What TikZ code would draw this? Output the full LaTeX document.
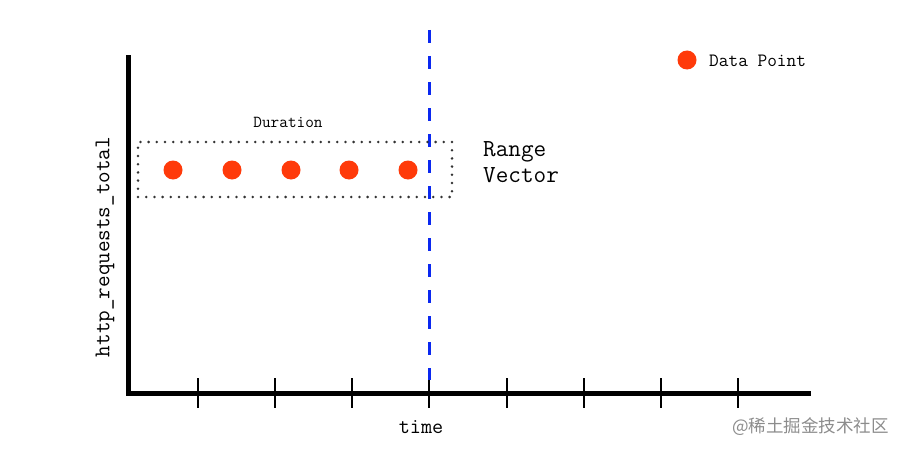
\documentclass[tikz,border=0pt]{standalone}
\usepackage{fontspec}
\newfontfamily\cjk{Noto Sans CJK SC}
\definecolor{pt}{HTML}{FF3A0A}
\definecolor{bl}{HTML}{0A28F0}
\begin{document}
\begin{tikzpicture}[x=1pt,y=-1pt,
  axis/.style={line width=5pt},
  tick/.style={line width=2.6pt},
  dp/.style={circle,fill=pt,inner sep=0pt,minimum size=19pt},
  lbl/.style={font=\ttfamily,inner sep=0pt,text=black}]
\useasboundingbox (0,0) rectangle (904,452);
% axes
\coordinate (top) at (128,58);
\coordinate (orig) at (128,393);
\coordinate (xend) at (808,393);
\draw[axis,line cap=rect] (top) -- (orig) -- (xend);
\foreach \x in {198,275,352,429,507,584,661,738}
  \draw[tick] (\x,378) -- (\x,408);
% blue dashed line
\coordinate (vtop) at (429,30);
\coordinate (vbot) at (429,380);
\draw[bl,line width=3pt,dash pattern=on 13pt off 13pt] (vtop) -- (vbot);
% range box
\node[draw=black!80,line width=2.8pt,line cap=round,dash pattern=on 0pt off 8.2pt,
  minimum width=314pt,minimum height=55pt,inner sep=0pt] (box) at (295,169.5) {};
% points
\foreach \x/\n in {173/p1,232/p2,291/p3,349/p4,408/p5}
  \node[dp] (\n) at (\x,170) {};
% labels
\node[lbl,font=\fontsize{16.8}{18}\ttfamily] (dur) at (288,122) {Duration};
\node[lbl,font=\fontsize{24.5}{26}\ttfamily,anchor=north west,align=left] (rv) at (483,141) {Range\\Vector};
\node[lbl,font=\fontsize{21.6}{24}\ttfamily] (time) at (421,427) {time};
\node[lbl,font=\fontsize{22.5}{24}\ttfamily,rotate=90] (ylab) at (105,247) {http\_requests\_total};
% legend
\node[dp] (ld) at (687,60) {};
\node[lbl,font=\fontsize{18.8}{20}\ttfamily,anchor=west] (lt) at (709,61) {Data Point};
% watermark
\node[inner sep=0pt,anchor=east,text=black!45,font=\fontsize{17.5}{20}\cjk] (wm) at (889,427) {@稀土掘金技术社区};
\end{tikzpicture}
\end{document}
